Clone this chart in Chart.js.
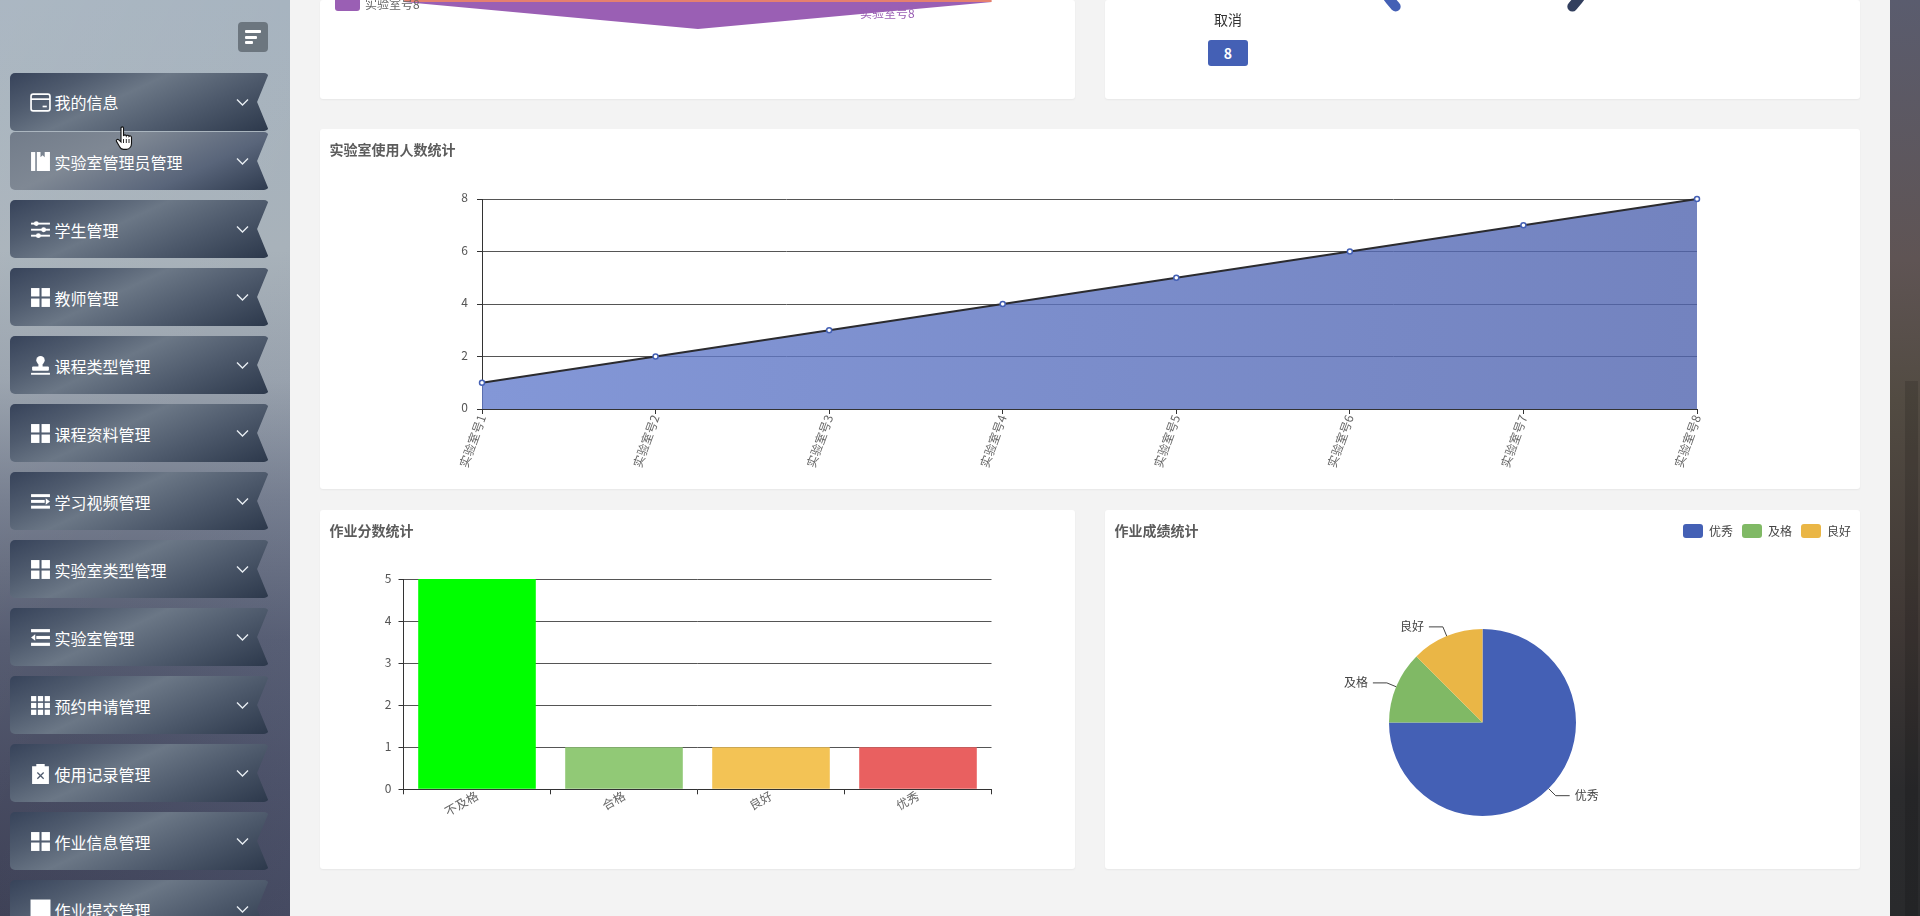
<!DOCTYPE html>
<html lang="zh-CN">
<head>
<meta charset="utf-8">
<title>统计</title>
<script src="https://cdn.jsdelivr.net/npm/chart.js@4/dist/chart.umd.min.js"></script>
<style>
html,body{margin:0;padding:0;width:1920px;height:916px;overflow:hidden;background:#f3f3f3;font-family:"Noto Sans CJK SC","Noto Sans",sans-serif;}
#side{position:absolute;left:0;top:0;width:290px;height:916px;overflow:hidden;
background:linear-gradient(115deg,rgba(255,255,255,.06),rgba(255,255,255,0) 55%,rgba(120,140,180,.12)),linear-gradient(180deg,#a6b3bf 0,#a8b2ba 250px,#99a2ad 380px,#757d8e 500px,#555b70 640px,#484c62 780px,#3e4156 916px);}
#strip{position:absolute;left:1890px;top:0;width:30px;height:916px;background:linear-gradient(180deg,#5a5c6e 0,#5f5454 260px,#524b42 400px,#403835 620px,#2b2b2d 790px,#292a2c 916px);}
#strip i{position:absolute;left:15px;top:381px;width:13px;height:535px;background:rgba(0,0,0,.13);}
#toggle{position:absolute;left:238px;top:22px;width:30px;height:30px;border-radius:4px;background:#6c767f;}
#toggle b{position:absolute;left:7px;height:3px;background:#fff;border-radius:1px;}
.item{position:absolute;left:10px;width:259px;height:58px;border-radius:5px;color:#fff;font-size:16px;line-height:60px;
clip-path:polygon(0 0,100% 0,95.4% 50%,100% 100%,0 100%);
background:linear-gradient(155deg,#37435a 0,#4f5b6e 22%,#6b7786 42%,#4e5a6c 68%,#2c384b 100%);}
.item.hover{background:linear-gradient(155deg,#727c8a 0,#7f8894 35%,#59657a 70%,#2e3a4e 100%);}
.item span{position:absolute;left:44.5px;top:0;white-space:nowrap;}
.item svg.ic{position:absolute;left:20px;top:18.5px;width:21px;height:21px;}
.item svg.ch{position:absolute;left:226px;top:25px;width:13px;height:9px;}
#hand{position:absolute;left:115px;top:126px;width:20px;height:25px;}
.card{position:absolute;background:#fff;border-radius:3px;box-shadow:0 1px 2px rgba(0,0,0,.05);overflow:hidden;}
.card canvas{position:absolute;display:block;}
.title{position:absolute;left:9.5px;top:9px;font-size:14px;font-weight:700;color:#5c5c5c;line-height:22px;white-space:nowrap;}
.abs{position:absolute;white-space:nowrap;}
</style>
</head>
<body>
<div id="side"></div>
<div id="strip"><i></i></div>

<div class="card" style="left:320px;top:0;width:755px;height:99px">
  <canvas id="funnel" width="755" height="99" style="left:0;top:0;width:755px;height:99px"></canvas>
  <div class="abs" style="left:15px;top:-8px;width:25px;height:19px;background:#9a5fb4;border-radius:3px"></div>
  <div class="abs" id="fLegend" style="left:45px;top:-5px;font-size:12px;line-height:18px;color:#666"></div>
  <div class="abs" id="fLabel" style="left:540px;top:4px;font-size:12px;line-height:18px;color:#9a5fb4"></div>
</div>
<div class="card" style="left:1105px;top:0;width:755px;height:99px">
  <canvas id="gauge" width="300" height="300" style="left:228.500px;top:-243px;width:300px;height:300px"></canvas>
  <div class="abs" id="cancelText" style="left:103px;top:8.500px;width:40px;text-align:center;font-size:14px;line-height:20px;color:#333"></div>
  <div class="abs" id="cancelNum" style="left:103px;top:40px;width:40px;height:26px;line-height:26px;text-align:center;background:#4460b5;color:#fff;font-weight:700;font-size:14px;border-radius:3px"></div>
</div>
<div class="card" style="left:320px;top:129px;width:1540px;height:360px">
  <canvas id="line" width="1540" height="360" style="left:0;top:0;width:1540px;height:360px"></canvas>
  <div class="title">实验室使用人数统计</div>
</div>
<div class="card" style="left:320px;top:510px;width:755px;height:359px">
  <canvas id="bar" width="755" height="359" style="left:0;top:0;width:755px;height:359px"></canvas>
  <div class="title">作业分数统计</div>
</div>
<div class="card" style="left:1105px;top:510px;width:755px;height:359px">
  <canvas id="pie" width="755" height="387" style="left:0;top:0;width:755px;height:387px"></canvas>
  <div class="title">作业成绩统计</div>
</div>

<script>
// ---------- data ----------
const labCategories = ["实验室号1","实验室号2","实验室号3","实验室号4","实验室号5","实验室号6","实验室号7","实验室号8"];
const labUsers = [1,2,3,4,5,6,7,8];
const scoreCategories = ["不及格","合格","良好","优秀"];
const scoreCounts = [5,1,1,1];
const gradeCategories = ["优秀","及格","良好"];
const gradeCounts = [6,1,1];
const funnelEdge = [-1.01,0,1.01];
const funnelLevel = [1.04,0,1.04];
const funnelPrevEdge = [-1.01,1.01];
const funnelPrevLevel = [1.2,1.2];
const gaugeParts = [4,4];
const cancelCount = 8;
const menuLabels = ["我的信息","实验室管理员管理","学生管理","教师管理","课程类型管理","课程资料管理","学习视频管理","实验室类型管理","实验室管理","预约申请管理","使用记录管理","作业信息管理","作业提交管理"];
const menuIcons = ["card","book","sliders","grid","stamp","grid","video","grid","list","table","clip","grid","square"];
const menuTops = [73,132,200,268,336,404,472,540,608,676,744,812,880];

// ---------- page text ----------
document.getElementById("fLegend").textContent = labCategories[7];
document.getElementById("fLabel").textContent = labCategories[7];
document.getElementById("cancelText").textContent = "取消";
document.getElementById("cancelNum").textContent = cancelCount;

const iconSvg = {
  card:'<rect x="1" y="2" width="18" height="16" rx="2" fill="none" stroke="#fff" stroke-width="1.6"/><rect x="1" y="6" width="18" height="1.6" fill="#fff"/><rect x="12" y="13" width="4" height="1.6" fill="#fff"/>',
  book:'<rect x="1" y="1" width="4" height="18" fill="#fff"/><path d="M6.5 1h3.5v5l2 -2 2 2v-5h5v18h-12.500z" fill="#fff"/>',
  sliders:'<g fill="#fff"><rect x="1" y="3.500" width="18" height="1.800"/><rect x="1" y="9.300" width="18" height="1.800"/><rect x="1" y="15" width="18" height="1.800"/><circle cx="6" cy="4.400" r="2.300"/><circle cx="13" cy="10.200" r="2.300"/><circle cx="8" cy="15.900" r="2.300"/></g>',
  grid:'<g fill="#fff"><rect x="1" y="1" width="8" height="8"/><rect x="11" y="1" width="8" height="8"/><rect x="1" y="11" width="8" height="8"/><rect x="11" y="11" width="8" height="8"/></g>',
  stamp:'<g fill="#fff"><circle cx="10" cy="5" r="4"/><rect x="8" y="7" width="4" height="5"/><rect x="2" y="11" width="16" height="4" rx="1"/><rect x="1" y="17" width="18" height="1.800"/></g>',
  video:'<g fill="#fff"><rect x="1" y="3" width="18" height="2.800"/><rect x="1" y="8.500" width="13" height="2.800"/><rect x="1" y="14" width="18" height="2.800"/><path d="M15 7l4 3-4 3z"/></g>',
  list:'<g fill="#fff"><rect x="1" y="2" width="18" height="3"/><rect x="6" y="8.500" width="13" height="3"/><rect x="1" y="15" width="18" height="3"/><path d="M5 7v6l-4-3z"/></g>',
  table:'<g fill="#fff"><rect x="1" y="1" width="5" height="5"/><rect x="7.500" y="1" width="5" height="5"/><rect x="14" y="1" width="5" height="5"/><rect x="1" y="7.500" width="5" height="5"/><rect x="7.500" y="7.500" width="5" height="5"/><rect x="14" y="7.500" width="5" height="5"/><rect x="1" y="14" width="5" height="5"/><rect x="7.500" y="14" width="5" height="5"/><rect x="14" y="14" width="5" height="5"/></g>',
  clip:'<path d="M2 3h4v-2h8v2h4v17h-16z" fill="#fff"/><path d="M7 9l6 6M13 9l-6 6" stroke="#4f5b6e" stroke-width="1.200"/>',
  square:'<rect x="0.500" y="0.500" width="19" height="19" fill="#fff"/>'
};
const side = document.getElementById("side");
side.innerHTML = '<div id="toggle"><b style="top:8px;width:16px"></b><b style="top:13.500px;width:12px"></b><b style="top:19px;width:8px"></b></div>';
menuLabels.forEach((t,i)=>{
  const d=document.createElement("div");
  d.className="item"+(i===1?" hover":"");
  d.style.top=menuTops[i]+"px";
  const spanTop = i===0 ? "top:-1px" : "top:0";
  d.innerHTML='<svg class="ic" viewBox="0 0 20 20">'+iconSvg[menuIcons[i]]+'</svg><span style="'+spanTop+'">'+t+'</span><svg class="ch" viewBox="0 0 13 9"><path d="M1 1.500l5.500 5.500 5.500-5.500" fill="none" stroke="#e8edf2" stroke-width="1.400"/></svg>';
  side.appendChild(d);
});
side.insertAdjacentHTML("beforeend",'<svg id="hand" viewBox="0 0 20 25"><path d="M6 2c0-1.500 2.500-1.500 2.500 0v8c.5-1.500 2.500-1.500 2.800 0 .6-1.200 2.500-1 2.700.4.700-.9 2.500-.6 2.500 1v6c0 3-2 6-5 6h-3c-2 0-3-1-4-3l-3-5c-.8-1.500 1-2.700 2.300-1.500l2.200 2z" fill="#fff" stroke="#111" stroke-width="1.100"/><path d="M8.500 13v4M11.300 13v4M14 13v4" stroke="#111" stroke-width=".9"/></svg>');

// ---------- charts ----------
Chart.defaults.font.family = '"Noto Sans CJK SC","Noto Sans",sans-serif';
Chart.defaults.font.size = 12;
Chart.defaults.color = "#555";
Chart.defaults.animation = false;
Chart.defaults.responsive = false;
Chart.defaults.plugins.tooltip.enabled = false;
Chart.defaults.plugins.legend.display = false;

const GRID = "#555", AXIS = "#333";

// funnel remainder (bottom band of a clipped funnel)
new Chart(document.getElementById("funnel"),{
  type:"scatter",
  data:{datasets:[
    {data:funnelPrevEdge.map((x,i)=>({x,y:funnelPrevLevel[i]})),showLine:true,pointRadius:0,borderWidth:0,backgroundColor:"#e5806f",fill:{value:1.04}},
    {data:funnelEdge.map((x,i)=>({x,y:funnelLevel[i]})),showLine:true,pointRadius:0,borderWidth:0,backgroundColor:"#9a5fb4",fill:{value:1.04}}
  ]},
  options:{
    layout:{padding:0},
    scales:{
      x:{type:"linear",display:false,min:-1.299,max:1.296},
      y:{type:"linear",display:false,min:-2.692,max:1.115}
    }
  }
});

// gauge (only its two lower ends remain visible)
new Chart(document.getElementById("gauge"),{
  type:"doughnut",
  data:{labels:["a","b"],datasets:[{data:gaugeParts,backgroundColor:["#4460b5","#323f5e"],borderWidth:0,borderRadius:5,radius:125,cutout:"92%",rotation:-135,circumference:270}]},
  options:{layout:{padding:0}}
});

// line
new Chart(document.getElementById("line"),{
  type:"line",
  data:{labels:labCategories,datasets:[{
    data:labUsers,
    borderColor:"#2b2b2f",borderWidth:2,tension:0,
    fill:"origin",
    clip:false,
    backgroundColor(ctx){
      const a=ctx.chart.chartArea; if(!a) return "rgba(95,115,190,.82)";
      const g=ctx.chart.ctx.createLinearGradient(a.left,0,a.right,0);
      g.addColorStop(0,"rgba(100,125,205,.8)");
      g.addColorStop(1,"rgba(80,100,175,.8)");
      return g;
    },
    pointRadius:2.5,pointBorderWidth:1.5,pointBorderColor:"#4460b5",pointBackgroundColor:"#fff"
  }]},
  options:{
    layout:{padding:{left:122,right:163,top:70,bottom:20}},
    scales:{
      x:{
        afterFit(s){s.height=60;},
        grid:{drawOnChartArea:false,tickLength:5,tickColor:AXIS},
        border:{color:AXIS},
        ticks:{minRotation:70,maxRotation:70,padding:-1,color:"#666",autoSkip:false}
      },
      y:{
        min:0,max:8,
        afterFit(s){s.width=40;},
        grid:{color:GRID,tickLength:5,tickColor:AXIS},
        border:{color:AXIS},
        ticks:{stepSize:2,padding:9,labelOffset:-1.5,color:"#555"}
      }
    }
  }
});

// bar
new Chart(document.getElementById("bar"),{
  type:"bar",
  data:{labels:scoreCategories,datasets:[{
    data:scoreCounts,
    backgroundColor:["#00ff00","#91c976","#f3c355","#e96060"],
    barPercentage:.8,categoryPercentage:1,borderWidth:0
  }]},
  options:{
    layout:{padding:{left:43.5,right:83.5,top:69,bottom:19.7}},
    scales:{
      x:{
        afterFit(s){s.height=60;},
        grid:{drawOnChartArea:false,tickLength:5,tickColor:AXIS},
        border:{color:AXIS},
        ticks:{minRotation:30,maxRotation:30,padding:-6,color:"#666"}
      },
      y:{
        min:0,max:5,
        afterFit(s){s.width=40;},
        grid:{color:GRID,tickLength:5,tickColor:AXIS},
        border:{color:AXIS},
        ticks:{stepSize:1,padding:7,labelOffset:-1,color:"#555"}
      }
    }
  }
});

// pie with leader lines
const leaderPlugin = {
  id:"leaders",
  afterDatasetsDraw(chart){
    const c=chart.ctx, meta=chart.getDatasetMeta(0);
    c.save();
    c.font='12px '+Chart.defaults.font.family;
    c.textBaseline="middle";
    meta.data.forEach((arc,i)=>{
      const p=arc.getProps(["x","y","startAngle","endAngle","outerRadius"],true);
      const m=(p.startAngle+p.endAngle)/2, cos=Math.cos(m), sin=Math.sin(m);
      const r=p.outerRadius, sign=cos>=0?1:-1;
      const x1=p.x+cos*r, y1=p.y+sin*r, x2=p.x+cos*(r+10), y2=p.y+sin*(r+10), x3=x2+sign*14;
      c.strokeStyle="#444"; c.lineWidth=1;
      c.beginPath(); c.moveTo(x1,y1); c.lineTo(x2,y2); c.lineTo(x3,y2); c.stroke();
      c.fillStyle="#444";
      c.textAlign=sign>0?"left":"right";
      c.fillText(chart.data.labels[i],x3+sign*5,y2);
    });
    c.restore();
  }
};
new Chart(document.getElementById("pie"),{
  type:"pie",
  data:{labels:gradeCategories,datasets:[{
    data:gradeCounts,
    backgroundColor:["#4460b5","#80b965","#eab646"],
    borderWidth:0,radius:93.5
  }]},
  options:{
    layout:{padding:{left:0,right:0,top:5,bottom:0}},
    plugins:{legend:{
      display:true,position:"top",align:"end",
      labels:{boxWidth:20,boxHeight:14,useBorderRadius:true,borderRadius:3,padding:9,color:"#444",font:{size:12}}
    }}
  },
  plugins:[leaderPlugin]
});
</script>
</body>
</html>
